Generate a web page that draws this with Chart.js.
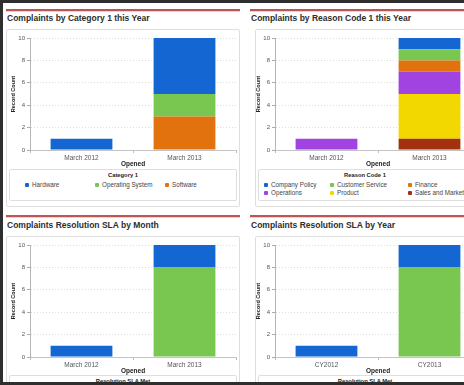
<!DOCTYPE html>
<html>
<head>
<meta charset="utf-8">
<script src="https://cdn.jsdelivr.net/npm/chart.js@4.4.0/dist/chart.umd.min.js"></script>
<style>
html, body { margin: 0; padding: 0; }
body { width: 464px; height: 385px; overflow: hidden; position: relative; background: #fff; font-family: "Liberation Sans", Arial, sans-serif; }
.edge { position: absolute; background: #2e2e2e; z-index: 5; }
.redline { position: absolute; height: 2px; background: #bd5553; border-bottom: 1px solid #ead0cf; }
.title { position: absolute; font-size: 8.5px; line-height: 10px; font-weight: bold; color: #2d2d2d; white-space: nowrap; }
.box { position: absolute; border: 1px solid #dedede; border-radius: 2px; }
.chart { position: absolute; }
.legend { position: absolute; border: 1px solid #dedede; border-radius: 2px; background: #fff; }
.legend .lt { text-align: center; font-weight: bold; font-size: 5.8px; color: #222; margin-top: 1px; height: 8px; line-height: 8px; }
.legend .items { display: grid; margin-top: 2px; row-gap: 0px; }
.legend .item { font-size: 6.3px; color: #444; white-space: nowrap; overflow: hidden; height: 8px; line-height: 8px; }
.legend .sw { display: inline-block; width: 4px; height: 4px; border-radius: 1px; margin-right: 3px; vertical-align: 0px; }
</style>
</head>
<body>

<div class="edge" style="left:0;top:0;width:464px;height:3px"></div>
<div class="edge" style="left:0;top:0;width:3px;height:385px"></div>
<div class="edge" style="left:0;top:382px;width:464px;height:3px"></div>

<!-- top left -->
<div class="redline" style="left:6px;top:9px;width:234px"></div>
<div class="title" style="left:7px;top:13px">Complaints by Category 1 this Year</div>
<div class="box" style="left:6px;top:29px;width:232px;height:176px"></div>
<canvas class="chart" id="chart1" width="234" height="138" style="left:6px;top:30px;width:234px;height:138px"></canvas>
<div class="legend" id="legend1" style="left:9px;top:169px;width:226px;height:30px"></div>

<!-- top right -->
<div class="redline" style="left:250px;top:9px;width:214px"></div>
<div class="title" style="left:251px;top:13px">Complaints by Reason Code 1 this Year</div>
<div class="box" style="left:255px;top:29px;width:215px;height:176px"></div>
<canvas class="chart" id="chart2" width="234" height="138" style="left:251px;top:30px;width:234px;height:138px"></canvas>
<div class="legend" id="legend2" style="left:258px;top:169px;width:212px;height:30px"></div>

<!-- bottom left -->
<div class="redline" style="left:6px;top:215px;width:234px"></div>
<div class="title" style="left:7px;top:220px">Complaints Resolution SLA by Month</div>
<div class="box" style="left:6px;top:236px;width:232px;height:176px"></div>
<canvas class="chart" id="chart3" width="234" height="138" style="left:6px;top:237px;width:234px;height:138px"></canvas>
<div class="legend" id="legend3" style="left:9px;top:375px;width:226px;height:30px"></div>

<!-- bottom right -->
<div class="redline" style="left:250px;top:215px;width:214px"></div>
<div class="title" style="left:251px;top:220px">Complaints Resolution SLA by Year</div>
<div class="box" style="left:255px;top:236px;width:215px;height:176px"></div>
<canvas class="chart" id="chart4" width="234" height="138" style="left:251px;top:237px;width:234px;height:138px"></canvas>
<div class="legend" id="legend4" style="left:258px;top:375px;width:212px;height:30px"></div>

<script>
// categories
var months = ['March 2012', 'March 2013'];
var years = ['CY2012', 'CY2013'];

// Complaints by Category 1
var hardware = [1, 5];
var operatingSystem = [0, 2];
var software = [0, 3];

// Complaints by Reason Code 1
var companyPolicy = [0, 1];
var customerService = [0, 1];
var finance = [0, 1];
var operations = [1, 2];
var product = [0, 4];
var salesMarketing = [0, 1];

// Resolution SLA met
var slaMonthNo = [1, 2];
var slaMonthYes = [0, 8];
var slaYearNo = [1, 2];
var slaYearYes = [0, 8];

var yTicks = [0, 2, 4, 6, 8, 10];

var BLUE = '#1467d2', GREEN = '#79c651', ORANGE = '#e2720e',
    PURPLE = '#a043e0', YELLOW = '#f3d800', DARKRED = '#a3300f';

Chart.defaults.font.family = '"Liberation Sans", Arial, sans-serif';
Chart.defaults.animation = false;

function ds(label, data, color) {
    return { label: label, data: data, backgroundColor: color, borderWidth: 0 };
}

function barChart(id, labels, datasets) {
    var ctx = document.getElementById(id).getContext('2d');
    return new Chart(ctx, {
        type: 'bar',
        data: { labels: labels, datasets: datasets },
        options: {
            responsive: false,
            barPercentage: 0.6,
            categoryPercentage: 1,
            layout: { padding: { top: 8, right: 4, left: 0, bottom: 0 } },
            plugins: { legend: { display: false }, tooltip: { enabled: false } },
            scales: {
                x: {
                    stacked: true,
                    afterFit: function (s) { s.height = 18; },
                    grid: { offset: true, drawOnChartArea: false, tickLength: 3, color: '#bbbbbb' },
                    border: { color: '#c4c4c4' },
                    ticks: { color: '#555', font: { size: 6.5 }, padding: 1, maxRotation: 0 },
                    title: { display: true, text: 'Opened', color: '#222', font: { size: 6.5, weight: 'bold' }, padding: 0 }
                },
                y: {
                    stacked: true,
                    min: 0,
                    max: 10,
                    afterFit: function (s) { s.width = 24; },
                    afterBuildTicks: function (s) { s.ticks = yTicks.map(function (v) { return { value: v }; }); },
                    grid: { color: '#dddddd', tickLength: 3, tickColor: '#aaaaaa', tickBorderDash: [] },
                    border: { color: '#b5b5b5', dash: [1, 2] },
                    ticks: { color: '#555', font: { size: 6 }, padding: 2 },
                    title: { display: true, text: 'Record Count', color: '#222', font: { size: 5.5, weight: 'bold' }, padding: { top: 4, bottom: 0 } }
                }
            }
        }
    });
}

// legend shows the top of the stack first, like the original dashboard
function htmlLegend(id, title, chart, cols, pad) {
    var el = document.getElementById(id);
    var html = '<div class="lt">' + title + '</div><div class="items" style="padding-left:' + pad + 'px;grid-template-columns:' + cols + '">';
    chart.data.datasets.slice().reverse().forEach(function (d) {
        html += '<div class="item"><span class="sw" style="background:' + d.backgroundColor + '"></span>' + d.label + '</div>';
    });
    el.innerHTML = html + '</div>';
}

var chart1 = barChart('chart1', months, [
    ds('Software', software, ORANGE),
    ds('Operating System', operatingSystem, GREEN),
    ds('Hardware', hardware, BLUE)
]);
htmlLegend('legend1', 'Category 1', chart1, '70px 70px 70px', 15);

var chart2 = barChart('chart2', months, [
    ds('Sales and Marketing', salesMarketing, DARKRED),
    ds('Product', product, YELLOW),
    ds('Operations', operations, PURPLE),
    ds('Finance', finance, ORANGE),
    ds('Customer Service', customerService, GREEN),
    ds('Company Policy', companyPolicy, BLUE)
]);
htmlLegend('legend2', 'Reason Code 1', chart2, '66px 78px 70px', 5);

var chart3 = barChart('chart3', months, [
    ds('Yes', slaMonthYes, GREEN),
    ds('No', slaMonthNo, BLUE)
]);
htmlLegend('legend3', 'Resolution SLA Met', chart3, '70px 70px 70px', 15);

var chart4 = barChart('chart4', years, [
    ds('Yes', slaYearYes, GREEN),
    ds('No', slaYearNo, BLUE)
]);
htmlLegend('legend4', 'Resolution SLA Met', chart4, '66px 78px 70px', 5);
</script>
</body>
</html>
